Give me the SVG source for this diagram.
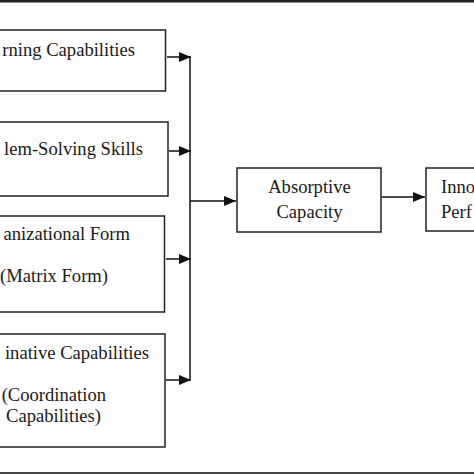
<svg xmlns="http://www.w3.org/2000/svg" width="474" height="474" viewBox="0 0 474 474">
<style>
.box{fill:#fff;stroke:#222;stroke-width:1.5}
.t{font-family:"Liberation Serif","Times New Roman",serif;font-size:18.6px;fill:#1a1a1a}
.e{text-anchor:end}
.m{text-anchor:middle}
.c{fill:none;stroke:#111;stroke-width:1.5}
</style>
<defs>
<marker id="ah" viewBox="0 0 12 10" refX="12" refY="5" markerWidth="12" markerHeight="10" markerUnits="userSpaceOnUse" orient="auto">
<path d="M0,0 L12,5 L0,10 Z" fill="#111"/>
</marker>
</defs>
<rect x="0" y="0" width="474" height="474" fill="#fff"/>
<rect x="0" y="0" width="474" height="2.5" fill="#222"/>
<rect x="0" y="472" width="474" height="2" fill="#444"/>
<g id="learning">
<rect class="box" x="-100" y="30" width="265.5" height="61"/>
<text class="t e" x="135" y="56">rning Capabilities</text>
</g>
<g id="problem">
<rect class="box" x="-100" y="122" width="268" height="74"/>
<text class="t e" x="143" y="155">lem-Solving Skills</text>
</g>
<g id="organizational">
<rect class="box" x="-100" y="216" width="264.5" height="96"/>
<text class="t e" x="130" y="240">anizational Form</text>
<text class="t e" x="108" y="282">(Matrix Form)</text>
</g>
<g id="combinative">
<rect class="box" x="-100" y="334" width="265" height="113"/>
<text class="t e" x="149" y="359">inative Capabilities</text>
<text class="t e" x="106" y="401">(Coordination</text>
<text class="t e" x="101" y="422">Capabilities)</text>
</g>
<g id="absorptive">
<rect class="box" x="237" y="168" width="144" height="64"/>
<text class="t m" x="309.5" y="193">Absorptive</text>
<text class="t m" x="309.5" y="218">Capacity</text>
</g>
<g id="innovation">
<rect class="box" x="426" y="168" width="120" height="63"/>
<text class="t" x="441" y="193">Inno</text>
<text class="t" x="441" y="218">Perf</text>
</g>
<g id="connectors">
<path class="c" d="M190,57 L190,380"/>
<path class="c" d="M167,57 L191,57" marker-end="url(#ah)"/>
<path class="c" d="M169,151 L191,151" marker-end="url(#ah)"/>
<path class="c" d="M166,259 L191,259" marker-end="url(#ah)"/>
<path class="c" d="M166,380 L191,380" marker-end="url(#ah)"/>
<path class="c" d="M190,201 L236,201" marker-end="url(#ah)"/>
<path class="c" d="M382,197 L425,197" marker-end="url(#ah)"/>
</g>
</svg>
